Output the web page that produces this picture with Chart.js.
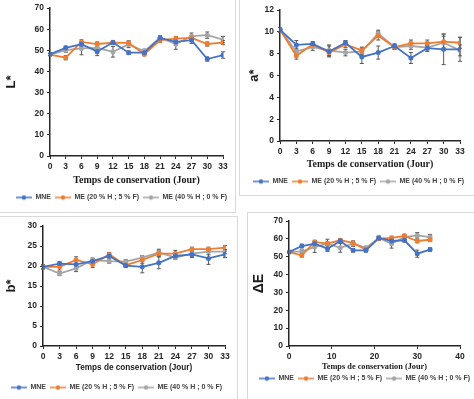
<!DOCTYPE html>
<html>
<head>
<meta charset="utf-8">
<script src="https://cdn.jsdelivr.net/npm/chart.js@4.4.0/dist/chart.umd.min.js"></script>
<style>
body { margin: 0; background: #fff; width: 474px; height: 399px; position: relative; overflow: hidden; }
.frame { position: absolute; border: 1px solid #dadada; }
canvas { position: absolute; }
</style>
</head>
<body>
<div class="frame" style="left:-1px;top:-1px;width:235px;height:212px"></div>
<div class="frame" style="left:239px;top:-1px;width:240px;height:195px"></div>
<div class="frame" style="left:-1px;top:216px;width:237px;height:190px"></div>
<div class="frame" style="left:247px;top:212px;width:230px;height:190px"></div>
<canvas id="chartL" width="237" height="211" style="left:0;top:0"></canvas>
<canvas id="chartA" width="237" height="195" style="left:237px;top:0"></canvas>
<canvas id="chartB" width="237" height="201" style="left:0;top:200px"></canvas>
<canvas id="chartE" width="237" height="192" style="left:237px;top:200px"></canvas>
<script>
const days = [0, 3, 6, 9, 12, 15, 18, 21, 24, 27, 30, 33];
const seriesNames = ['MNE', 'ME (20 % H ; 5 % F)', 'ME (40 % H ; 0 % F)'];
const colors = ['#4472C4', '#ED7D31', '#A5A5A5'];

// L*
const lMNE  = [48.2, 51.2, 52.9, 49.5, 53.7, 48.9, 48.9, 55.9, 54.0, 54.8, 45.9, 47.8];
const lME20 = [48.0, 46.5, 54.0, 53.0, 53.7, 53.5, 48.2, 54.8, 55.6, 55.9, 53.0, 53.7];
const lME40 = [48.0, 50.1, 50.9, 51.2, 49.3, 52.8, 49.6, 56.0, 53.0, 56.7, 57.2, 55.1];
const lErrMNE  = [0.5, 0.8, 1.0, 2.0, 1.0, 0.8, 0.5, 0.8, 1.5, 1.5, 1.0, 1.5];
const lErrME20 = [0.5, 1.0, 1.0, 1.0, 0.8, 1.0, 0.8, 1.0, 1.0, 1.0, 1.0, 1.0];
const lErrME40 = [0.5, 1.0, 3.0, 2.5, 2.5, 1.5, 1.0, 1.0, 2.5, 1.5, 1.5, 1.5];

// a*
const aMNE  = [10.2, 8.8, 8.9, 8.2, 9.0, 7.7, 8.1, 8.7, 7.6, 8.5, 8.4, 8.4];
const aME20 = [10.2, 7.8, 8.85, 8.1, 8.85, 8.3, 9.65, 8.6, 8.95, 8.95, 9.1, 9.0];
const aME40 = [10.2, 8.2, 8.6, 8.3, 8.1, 8.2, 9.85, 8.6, 8.7, 8.55, 9.0, 8.3];
const aErrMNE  = [0.2, 0.4, 0.2, 0.5, 0.2, 0.6, 0.6, 0.2, 0.5, 0.3, 1.4, 1.1];
const aErrME20 = [0.2, 0.3, 0.2, 0.3, 0.3, 0.3, 0.4, 0.2, 0.3, 0.3, 0.7, 0.5];
const aErrME40 = [0.2, 0.3, 0.3, 0.5, 0.3, 0.3, 0.3, 0.2, 0.3, 0.2, 0.6, 0.5];

// b*
const bMNE  = [19.8, 20.6, 20.4, 21.2, 22.5, 20.1, 19.8, 20.8, 22.5, 22.9, 21.9, 22.9];
const bME20 = [19.8, 19.8, 21.5, 20.4, 22.9, 20.2, 21.5, 23.1, 23.1, 24.2, 24.2, 24.6];
const bME40 = [19.8, 18.1, 19.4, 21.5, 21.2, 21.1, 22.1, 23.4, 22.1, 23.1, 23.6, 23.6];
const bErrMNE  = [0.5, 0.5, 0.8, 0.5, 0.5, 0.5, 1.5, 1.5, 0.5, 0.8, 1.5, 0.8];
const bErrME20 = [0.5, 0.8, 0.8, 0.8, 0.5, 0.5, 0.8, 0.8, 0.8, 0.5, 0.5, 0.5];
const bErrME40 = [0.5, 0.5, 0.8, 0.5, 0.5, 0.5, 0.5, 0.8, 0.5, 0.8, 0.8, 0.5];

// delta E
const eMNE  = [52.6, 56.0, 57.3, 54.5, 58.8, 53.6, 53.6, 60.5, 58.8, 59.2, 51.7, 54.0];
const eME20 = [52.6, 50.8, 58.2, 57.3, 59.2, 57.7, 54.0, 60.1, 60.5, 61.6, 58.8, 59.5];
const eME40 = [52.6, 53.0, 55.4, 57.3, 55.0, 57.3, 54.9, 60.5, 57.3, 61.0, 62.0, 61.0];
const eErrMNE  = [0.5, 1.0, 1.0, 1.5, 1.0, 1.0, 1.0, 1.0, 1.0, 1.0, 2.0, 1.0];
const eErrME20 = [0.5, 1.0, 1.0, 1.0, 1.0, 1.0, 1.0, 1.0, 1.0, 1.0, 1.0, 1.0];
const eErrME40 = [0.5, 1.0, 3.0, 2.5, 2.5, 1.5, 1.0, 1.0, 2.5, 1.5, 1.5, 1.5];

const sans = '"Liberation Sans", Arial, sans-serif';
const serif = '"Liberation Serif", "Times New Roman", serif';
const tickColor = '#262626';

// little line-with-dot images for the legend, like Excel
function legendMark(color) {
    const c = document.createElement('canvas');
    c.width = 16; c.height = 6;
    const g = c.getContext('2d');
    g.strokeStyle = color; g.lineWidth = 1.5;
    g.beginPath(); g.moveTo(0, 3); g.lineTo(16, 3); g.stroke();
    g.fillStyle = color;
    g.beginPath(); g.arc(8, 3, 2.2, 0, Math.PI * 2); g.fill();
    return c;
}
const marks = colors.map(legendMark);

// error bars drawn from the scales
const errorBars = {
    id: 'errorBars',
    beforeDatasetsDraw(chart) {
        const ctx = chart.ctx;
        const xs = chart.scales.x, ys = chart.scales.y;
        ctx.save();
        ctx.strokeStyle = '#595959';
        ctx.lineWidth = 1;
        chart.data.datasets.forEach(ds => {
            ds.data.forEach((p, i) => {
                const e = ds.errors[i];
                const px = xs.getPixelForValue(p.x);
                const y1 = ys.getPixelForValue(p.y + e);
                const y2 = ys.getPixelForValue(p.y - e);
                ctx.beginPath();
                ctx.moveTo(px, y1); ctx.lineTo(px, y2);
                ctx.moveTo(px - 2, y1); ctx.lineTo(px + 2, y1);
                ctx.moveTo(px - 2, y2); ctx.lineTo(px + 2, y2);
                ctx.stroke();
            });
        });
        ctx.restore();
    }
};

// the legends in the picture are not centred on the panel, nudge them sideways
const legendShift = {
    id: 'legendShift',
    afterLayout(chart, args, opts) {
        if (chart.legend) {
            chart.legend.left += opts.dx;
            chart.legend.right += opts.dx;
        }
    }
};

function makeChart(id, o) {
    const sets = [o.v1, o.v2, o.v3].map((vals, k) => ({
        label: seriesNames[k],
        data: days.map((d, i) => ({ x: d, y: vals[i] })),
        errors: o.errs[k],
        borderColor: colors[k],
        backgroundColor: colors[k],
        borderWidth: 1.8,
        pointRadius: 2.5,
        pointBorderWidth: 0,
        tension: 0
    }));
    return new Chart(document.getElementById(id), {
        type: 'line',
        data: { datasets: sets },
        plugins: [errorBars, legendShift],
        options: {
            responsive: false,
            animation: false,
            layout: { padding: o.pad },
            plugins: {
                tooltip: { enabled: false },
                legendShift: { dx: o.legendDx },
                legend: {
                    position: 'bottom',
                    labels: {
                        usePointStyle: true,
                        pointStyleWidth: 16,
                        padding: 4,
                        color: '#404040',
                        font: { family: sans, size: 7, weight: 'bold' },
                        generateLabels(chart) {
                            return chart.data.datasets.map((ds, i) => ({
                                text: ds.label,
                                pointStyle: marks[i],
                                fillStyle: colors[i],
                                strokeStyle: colors[i],
                                lineWidth: 0,
                                fontColor: '#404040',
                                datasetIndex: i
                            }));
                        }
                    }
                }
            },
            scales: {
                x: {
                    type: 'linear',
                    min: 0, max: o.xMax,
                    ticks: { stepSize: o.xStep, color: tickColor, padding: 3, font: { family: sans, size: 8.5, weight: 'bold' } },
                    grid: { drawOnChartArea: false, tickLength: 3, color: '#262626' },
                    border: { color: '#262626', width: 1.5 },
                    title: { display: true, text: 'Temps de conservation (Jour)', color: '#1a1a1a', padding: { top: 0, bottom: o.xTitlePad }, font: o.xTitleFont },
                    afterFit(s) { s.height = o.xH; }
                },
                y: {
                    min: 0, max: o.yMax,
                    ticks: { stepSize: o.yStep, color: tickColor, padding: 3, font: { family: sans, size: 8.5, weight: 'bold' } },
                    grid: { drawOnChartArea: false, tickLength: 3, color: '#262626' },
                    border: { color: '#262626', width: 1.5 },
                    title: { display: true, text: o.yTitle, color: '#1a1a1a', padding: { top: o.yTitlePad, bottom: 0 }, font: { family: sans, size: o.yTitleSize, weight: 'bold' } },
                    afterFit(s) { s.width = o.yW; }
                }
            }
        }
    });
}

makeChart('chartL', {
    v1: lMNE, v2: lME20, v3: lME40, errs: [lErrMNE, lErrME20, lErrME40],
    xMax: 33, xStep: 3, yMax: 70, yStep: 10, yTitle: 'L*', yTitleSize: 13, yTitlePad: 4,
    xTitleFont: { family: serif, size: 10, weight: 'bold' }, xTitlePad: 4, legendDx: 10,
    pad: { top: 5, right: 14, left: 0, bottom: 0 }, yW: 50, xH: 34
});
makeChart('chartA', {
    v1: aMNE, v2: aME20, v3: aME40, errs: [aErrMNE, aErrME20, aErrME40],
    xMax: 33, xStep: 3, yMax: 12, yStep: 2, yTitle: 'a*', yTitleSize: 13, yTitlePad: 10,
    xTitleFont: { family: serif, size: 10, weight: 'bold' }, xTitlePad: 4, legendDx: 10,
    pad: { top: 10, right: 14, left: 0, bottom: 0 }, yW: 43, xH: 33
});
makeChart('chartB', {
    v1: bMNE, v2: bME20, v3: bME40, errs: [bErrMNE, bErrME20, bErrME40],
    xMax: 33, xStep: 3, yMax: 30, yStep: 5, yTitle: 'b*', yTitleSize: 13, yTitlePad: 4,
    xTitleFont: { family: sans, size: 8.2, weight: 'bold' }, xTitlePad: 7, legendDx: 4,
    pad: { top: 26, right: 12, left: 0, bottom: 0 }, yW: 43, xH: 34
});
makeChart('chartE', {
    v1: eMNE, v2: eME20, v3: eME40, errs: [eErrMNE, eErrME20, eErrME40],
    xMax: 40, xStep: 10, yMax: 70, yStep: 10, yTitle: '\u0394E', yTitleSize: 14, yTitlePad: 13.6,
    xTitleFont: { family: serif, size: 8.3, weight: 'bold' }, xTitlePad: -1, legendDx: 16,
    pad: { top: 21, right: 14, left: 0, bottom: 0 }, yW: 52, xH: 25
});
</script>
</body>
</html>
